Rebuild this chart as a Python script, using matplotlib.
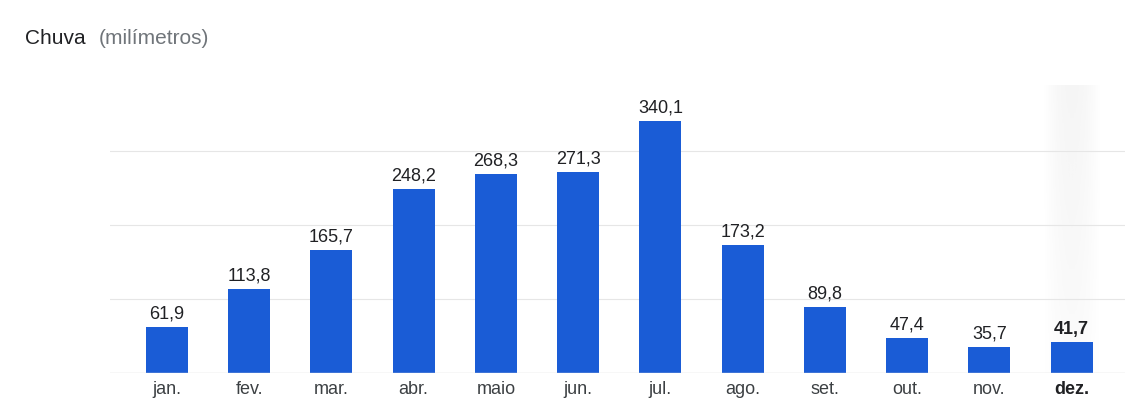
import matplotlib.pyplot as plt
import numpy as np

months = ["jan.", "fev.", "mar.", "abr.", "maio", "jun.", "jul.", "ago.", "set.", "out.", "nov.", "dez."]
rain = [61.9, 113.8, 165.7, 248.2, 268.3, 271.3, 340.1, 173.2, 89.8, 47.4, 35.7, 41.7]
highlight = 11

W, H = 1125, 413
fig = plt.figure(figsize=(W / 100, H / 100), dpi=100)
plt.rcParams["font.family"] = ["Liberation Sans", "DejaVu Sans"]

ax = fig.add_axes([110 / W, (H - 373) / H, 1 - 110 / W, 288 / H])
ax.set_xlim(-0.693, 11.65)
ax.set_ylim(0, 389)

# highlighted column background (soft gradient)
grad = np.linspace(0, 1, 64).reshape(1, -1)
grad = 1 - 4 * (grad - 0.5) ** 2
ax.imshow(grad.T * 0 + np.linspace(0.4, 1, 64).reshape(-1, 1) * grad,
          extent=[highlight - 0.34, highlight + 0.34, 0, 389], aspect="auto",
          cmap="Greys", vmin=0, vmax=12, origin="lower", zorder=0)

for yv in (100, 200, 300):
    ax.axhline(yv, color="#e6e6e6", lw=0.8, zorder=1)
ax.axhline(0, color="#dadada", lw=1, zorder=3)

x = np.arange(len(months))
ax.bar(x, rain, width=0.51, color="#1a5cd6", zorder=2)
for i, v in enumerate(rain):
    ax.text(i, v + 6, f"{v:.1f}".replace(".", ","), ha="center", va="bottom",
            fontsize=13, color="#202124", fontweight="bold" if i == highlight else "normal")

ax.set_xticks(x)
ax.set_xticklabels(months, fontsize=13, color="#3c4043")
ax.get_xticklabels()[highlight].set_fontweight("bold")
ax.get_xticklabels()[highlight].set_color("#202124")
ax.tick_params(axis="x", length=0, pad=6)
ax.set_yticks([])
for s in ax.spines.values():
    s.set_visible(False)

fig.text(25 / W, 1 - 38 / H, "Chuva", fontsize=15, color="#202124", va="center")
fig.text(99 / W, 1 - 38 / H, "(milímetros)", fontsize=15, color="#70757a", va="center")

fig.savefig("out.png", dpi=100)
